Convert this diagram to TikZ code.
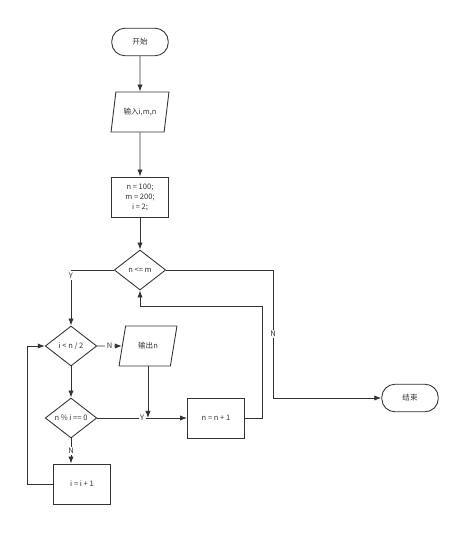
\documentclass[tikz,border=0pt]{standalone}
\usepackage{fontspec}
\setmainfont{Noto Sans CJK SC}
\usetikzlibrary{positioning, calc, shapes.geometric, arrows.meta}
\tikzset{
    term node/.style={rectangle, rounded corners=7.5pt, draw, minimum width=1.13cm, minimum height=0.55cm, font=\fontsize{4.3}{5.7}\selectfont},
    io node/.style={trapezium, trapezium left angle=72, trapezium right angle=108, trapezium stretches=true, draw, minimum width=1.16cm, minimum height=0.8cm, inner sep=1pt, font=\fontsize{4.3}{5.7}\selectfont},
    proc node/.style={rectangle, draw, minimum width=1.14cm, minimum height=0.8cm, align=center, font=\fontsize{4.3}{5.7}\selectfont},
    cond node/.style={diamond, draw, minimum width=1.03cm, minimum height=0.8cm, inner sep=0pt, font=\fontsize{4.3}{5.7}\selectfont, fill=white},
    flow line/.style={draw=black!80, line width=0.5pt, ->},
    edge label/.style={font=\fontsize{4.3}{5.7}\selectfont, fill=white, inner sep=0.8pt},
}

\begin{document}
\begin{tikzpicture}[x=0.02cm, y=-0.02cm, >={Latex[length=4pt, width=3pt]}, draw=black!80, text=black!80, line width=0.5pt]
    \useasboundingbox (0,0) rectangle (474,540);
    % nodes
    \node[term node] (start) at (140,42) {开始};
    \node[io node] (input) at (140,112) {输入i,m,n};
    \node[proc node] (init) at (140,197) {n = 100;\\ m = 200;\\ i = 2;};
    \node[cond node] (outer) at (140,270) {n <= m};
    \node[cond node] (inner) at (71,346) {i < n / 2};
    \node[io node] (print) at (148,346) {输出n};
    \node[cond node] (divide) at (71,418) {n \% i == 0};
    \node[proc node] (next) at (216,418) {n = n + 1};
    \node[proc node] (inc) at (82,484) {i = i + 1};
    \node[term node] (stop) at (410,398) {结束};
    \coordinate (join) at (print.south |- divide.east);
    \coordinate (back) at (262,306);
    \coordinate (exit) at (273,270);
    \coordinate (left) at (27,484);
    % edges
    \draw[flow line] (start) -- (input);
    \draw[flow line] (input) -- (init);
    \draw[flow line] (init) -- (outer);
    \draw[flow line] (outer.west) -| node[edge label, pos=0.55] {Y} (inner.north);
    \draw[flow line] (inner.east) -- node[edge label] {N} (print.west);
    \draw[flow line] (print.south) -- (join);
    \draw[flow line] (inner.south) -- (divide.north);
    \draw[flow line] (divide.east) -- node[edge label, pos=0.5] {Y} (next.west);
    \draw[flow line] (next.east) -| (back) -| (outer.south);
    \draw[flow line] (outer.east) -- (exit) |- node[edge label, pos=0.25] {N} (stop.west);
    \draw[flow line] (divide.south) -- node[edge label] {N} (divide.south |- inc.north);
    \draw[flow line] (inc.west) -- (left) |- (inner.west);
\end{tikzpicture}
\end{document}
